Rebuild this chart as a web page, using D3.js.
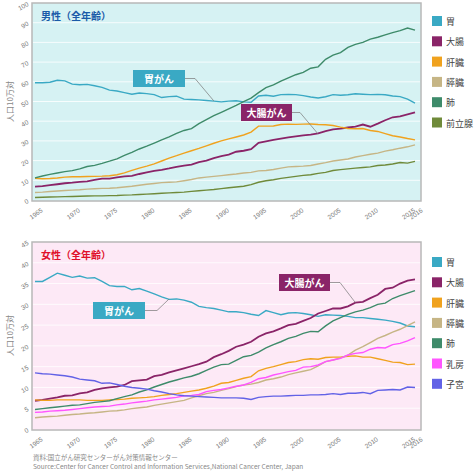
<!DOCTYPE html><html><head><meta charset="utf-8"><script src="https://cdn.jsdelivr.net/npm/d3@7"></script>
<style>body{margin:0;background:#fff;font-family:"Noto Sans CJK JP","Noto Sans",sans-serif}</style></head><body><svg id="c" width="474" height="473"></svg>
<script>
const years=d3.range(1965,2017);
const xTicks=[1965,1970,1975,1980,1985,1990,1995,2000,2005,2010,2015,2016];
// male
const mStomach=[59.5,59.5,59.8,60.8,60.5,58.8,58.5,58.7,58.0,57.2,55.8,55.3,54.5,53.7,54.3,54.0,53.5,52.0,52.5,52.7,51.2,51.0,50.8,50.5,50.2,49.8,50.2,50.4,49.8,49.6,52.8,53.2,52.7,53.5,53.6,53.5,53.0,52.3,51.8,52.4,53.5,53.2,53.4,53.9,53.7,53.5,53.6,53.4,52.8,52.5,51.2,49.2];
const mColon=[6.8,7.0,7.5,8.0,8.5,8.8,9.2,9.5,10.2,10.8,10.9,11.5,12.0,12.2,13.2,14.0,14.8,15.3,16.0,16.8,17.5,18.0,19.2,20.0,21.3,22.3,23.0,24.5,25.0,25.8,29.0,29.8,30.5,31.2,31.8,32.3,32.8,33.2,33.8,35.0,35.8,36.2,36.8,37.3,38.3,37.2,38.8,40.5,42.0,42.5,43.5,44.5];
const mLiver=[11.0,10.8,10.9,11.2,11.6,11.8,11.8,11.9,12.0,12.1,12.3,12.8,13.8,15.0,16.2,17.2,18.3,19.8,21.3,22.5,23.8,25.0,26.2,27.5,28.8,30.0,31.0,32.0,33.0,34.5,37.5,37.5,37.6,38.3,38.5,38.4,38.5,38.6,38.3,38.2,37.8,37.0,36.3,36.2,36.3,35.3,34.8,33.7,32.6,32.0,31.2,30.5];
const mPancreas=[3.8,4.0,4.3,4.6,4.8,5.0,5.2,5.5,5.7,5.9,6.0,6.2,6.6,7.0,7.5,8.0,8.4,8.8,9.0,9.2,9.8,10.4,11.2,11.6,12.0,12.4,12.8,13.2,13.7,14.0,14.8,15.0,15.5,16.2,16.8,17.0,17.2,17.5,18.3,19.0,19.8,20.3,20.8,21.8,22.5,23.2,23.8,24.8,25.5,26.3,27.0,28.0];
const mLung=[11.2,12.2,13.0,13.7,14.4,14.9,15.8,17.0,17.6,18.6,19.7,20.9,22.7,24.2,25.9,27.3,28.9,30.5,32.0,33.8,35.3,36.2,38.8,40.8,42.8,44.5,46.3,48.0,49.9,51.7,54.5,57.0,58.4,60.3,62.0,63.6,64.8,66.9,67.6,71.4,73.5,74.8,77.5,79.0,80.0,81.7,82.6,83.8,85.0,86.0,87.3,86.2];
const mProstate=[1.3,1.4,1.5,1.6,1.7,1.8,1.9,2.0,2.1,2.1,2.2,2.3,2.5,2.6,2.8,3.0,3.2,3.4,3.6,3.8,4.0,4.4,4.7,5.0,5.3,5.8,6.2,6.6,7.0,7.8,9.0,9.8,10.3,11.0,11.5,12.0,12.5,12.8,13.5,14.0,15.0,15.4,15.8,16.2,16.5,16.8,17.5,17.8,18.3,19.0,18.7,19.6];
const maleNames=["胃","大腸","肝臓","膵臓","肺","前立腺"];
// female
const fStomach=[35.5,35.5,36.5,37.5,37.0,36.5,36.8,36.3,36.4,35.5,34.5,34.3,34.3,33.5,33.8,33.2,32.5,31.8,31.2,31.3,31.0,30.5,29.5,29.2,29.0,28.6,28.2,28.2,28.0,27.6,27.3,28.5,28.0,27.5,27.9,28.0,27.8,27.5,27.1,27.5,27.4,27.3,27.1,26.8,26.8,26.6,26.4,26.2,25.9,25.5,24.8,24.6];
const fColon=[6.8,7.0,7.3,7.6,8.0,8.1,8.6,8.8,9.4,9.8,10.0,10.2,10.6,11.5,11.7,11.9,12.7,13.0,13.6,14.1,14.6,15.1,15.6,16.2,17.3,18.0,18.8,19.8,20.3,21.0,22.2,23.0,23.5,24.2,25.0,25.3,26.0,26.7,27.8,28.4,29.0,29.0,29.5,30.4,30.6,31.5,32.3,33.7,34.0,35.0,35.7,36.0];
const fLiver=[7.0,6.9,6.9,7.0,7.0,7.0,7.0,6.9,6.9,6.9,7.0,7.1,7.2,7.4,7.5,7.6,7.8,8.1,8.3,8.5,8.8,9.1,9.4,9.8,10.3,11.0,11.2,11.7,12.2,12.6,14.0,14.6,15.0,15.5,16.0,16.2,16.7,16.9,16.8,17.2,17.3,17.3,17.5,17.6,17.3,17.3,16.9,16.5,16.1,16.0,15.5,15.6];
const fPancreas=[2.7,2.9,3.0,3.1,3.3,3.5,3.6,3.8,3.9,4.1,4.3,4.4,4.6,4.9,5.1,5.3,5.7,6.0,6.3,6.6,6.9,7.5,8.0,8.5,8.8,9.3,9.7,10.2,10.6,10.8,11.2,11.8,12.1,12.5,13.1,13.5,13.9,14.3,15.2,16.2,16.6,17.1,17.8,19.0,19.8,20.8,21.8,22.5,23.3,24.0,24.9,25.8];
const fLung=[4.7,4.9,5.1,5.3,5.5,5.7,5.8,6.1,6.4,6.6,6.8,7.3,7.8,8.2,8.9,9.4,10.1,10.7,11.3,11.8,12.3,12.7,13.3,14.1,14.9,15.5,15.6,16.5,17.4,17.7,18.5,19.5,20.3,21.0,21.8,22.3,23.0,23.5,23.4,24.8,26.0,26.8,27.6,28.2,28.6,29.2,30.0,30.3,31.4,32.1,32.7,33.3];
const fBreast=[4.0,4.1,4.3,4.4,4.5,4.7,4.9,5.1,5.3,5.4,5.5,5.8,6.0,6.3,6.5,6.7,7.0,7.2,7.4,7.6,8.0,8.1,8.3,9.0,9.3,9.5,9.9,10.3,10.6,11.2,12.1,12.4,13.0,13.4,13.8,14.1,14.9,15.0,15.4,16.2,16.6,17.0,17.8,18.2,18.4,19.2,19.6,19.5,20.3,20.6,21.2,22.0];
const fUterus=[13.5,13.3,13.2,13.0,12.8,12.5,12.0,11.8,11.6,11.0,11.1,10.7,10.3,10.0,9.8,9.6,9.2,8.9,8.5,8.2,8.0,7.9,7.8,7.7,7.6,7.5,7.5,7.5,7.4,7.1,7.6,7.8,7.9,7.9,8.0,8.1,8.1,8.2,8.2,8.3,8.5,8.3,8.6,8.6,8.8,8.5,9.3,9.4,9.5,9.4,10.1,10.0];
const femaleNames=["胃","大腸","肝臓","膵臓","肺","乳房","子宮"];
const C={胃:"#3aa9c4",大腸:"#8a2468",肝臓:"#f0a21e",膵臓:"#c6b585",肺:"#3e8b6a",前立腺:"#6f8a3a",乳房:"#ff55ff",子宮:"#6262e6"};

const svg=d3.select("#c");
const x=d3.scaleLinear().domain([1965,2016]).range([35,415]);
function panel(o){
  const y=d3.scaleLinear().domain([0,o.max]).range([o.y0,o.y1]);
  svg.append("rect").attr("x",32).attr("y",o.y1).attr("width",389).attr("height",o.y0-o.y1+1).attr("fill",o.bg).attr("stroke","#b8b8b8").attr("stroke-width",1.5);
  const g=svg.append("g");
  d3.range(o.step,o.max,o.step).forEach(v=>g.append("line").attr("x1",33).attr("x2",420).attr("y1",y(v)).attr("y2",y(v)).attr("stroke","#fff").attr("stroke-width",0.8));
  const ya=svg.append("g").attr("transform","translate(32,0)").call(d3.axisLeft(y).tickValues(d3.range(0,o.max+1,o.step)).tickSize(0).tickPadding(4));
  ya.select(".domain").remove();
  ya.selectAll("text").attr("font-size",6.5).attr("fill","#777").attr("transform",function(){return "rotate(-30,"+this.getAttribute("x")+",0)"});
  const xa=svg.append("g").attr("transform",`translate(0,${o.y0})`).call(d3.axisBottom(x).tickValues(xTicks).tickFormat(d3.format("d")).tickSize(0).tickPadding(2));
  xa.select(".domain").remove();
  xa.selectAll("text").attr("font-size",6.5).attr("fill","#777").attr("text-anchor","end").attr("transform","translate(4,6) rotate(-35)");
  const line=d3.line().x((d,i)=>x(years[i])).y(d=>y(d));
  o.series.forEach((s,i)=>svg.append("path").datum(s).attr("d",line).attr("fill","none").attr("stroke",C[o.names[i]]).attr("stroke-width",o.names[i]==="大腸"?1.8:1.4));
  svg.append("text").attr("x",41).attr("y",o.y1+17).text(o.title).attr("fill",o.tc).attr("font-size",10).attr("font-weight","bold");
  svg.append("text").attr("transform",`translate(13,${(o.y0+o.y1)/2}) rotate(-90)`).attr("text-anchor","middle").attr("font-size",8).attr("fill","#888").text("人口10万対");
  o.names.forEach((n,i)=>{const ly=o.ly+i*20.3;
    svg.append("rect").attr("x",432).attr("y",ly-5).attr("width",10).attr("height",10).attr("fill",C[n]);
    svg.append("text").attr("x",446).attr("y",ly+4).attr("font-size",9).attr("fill","#444").text(n);});
  o.notes.forEach(a=>{
    svg.append("polyline").attr("points",`${a.bx+a.w},${a.by+8.5} ${a.kx},${a.by+8.5} ${x(a.yr)},${y(a.v)}`).attr("fill","none").attr("stroke","#777").attr("stroke-width",0.7);
    svg.append("rect").attr("x",a.bx).attr("y",a.by).attr("width",a.w).attr("height",17).attr("fill",C[a.n]);
    svg.append("text").attr("x",a.bx+a.w/2).attr("y",a.by+12.5).attr("text-anchor","middle").attr("fill","#fff").attr("font-size",10).attr("font-weight","bold").text(a.t);
  });
}
panel({max:100,step:10,y0:200,y1:3,bg:"#d6f2f3",title:"男性（全年齢）",tc:"#1a5aa8",names:maleNames,
  series:[mStomach,mColon,mLiver,mPancreas,mLung,mProstate],ly:21,
  notes:[{n:"胃",t:"胃がん",bx:133,by:70,w:52,kx:195,yr:1989,v:50.3},{n:"大腸",t:"大腸がん",bx:241,by:104,w:51,kx:300,yr:2003,v:33.5}]});
panel({max:45,step:5,y0:429,y1:242,bg:"#fde9f6",title:"女性（全年齢）",tc:"#e0102a",names:femaleNames,
  series:[fStomach,fColon,fLiver,fPancreas,fLung,fBreast,fUterus],ly:262,
  notes:[{n:"胃",t:"胃がん",bx:93,by:302,w:52,kx:157,yr:1983,v:31.3},{n:"大腸",t:"大腸がん",bx:279,by:274,w:51,kx:340,yr:2008,v:30.4}]});
svg.append("text").attr("x",33).attr("y",460).attr("font-size",6.5).attr("fill","#888").text("資料:国立がん研究センターがん対策情報センター");
svg.append("text").attr("x",33).attr("y",469).attr("font-size",6.5).attr("fill","#888").text("Source:Center for Cancer Control and Information Services,National Cancer Center, Japan");
</script></body></html>
